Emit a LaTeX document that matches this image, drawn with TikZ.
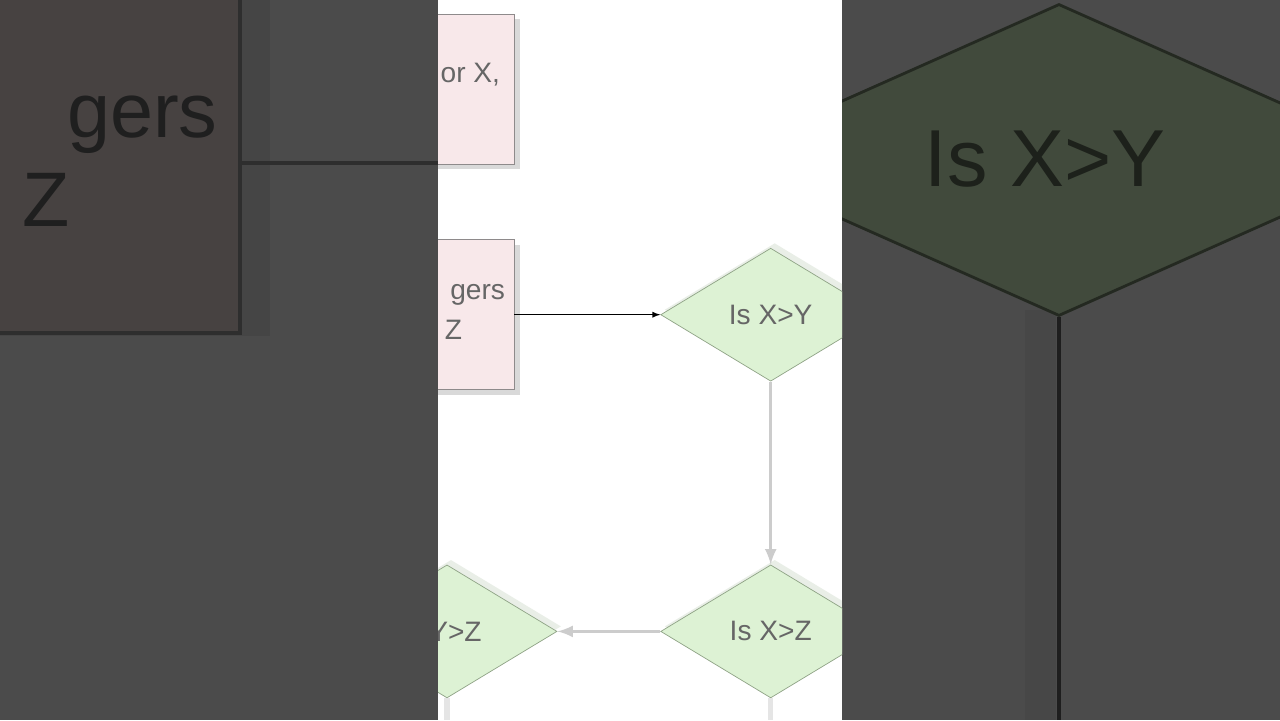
\documentclass[tikz,border=0pt]{standalone}
\usepackage{fontspec}
\setmainfont{Liberation Sans}
\usetikzlibrary{positioning}
\usetikzlibrary{shapes.geometric}
\usetikzlibrary{shadows}
\definecolor{panelgray}{HTML}{4B4B4B}
\definecolor{boxpink}{HTML}{F8E8EA}
\definecolor{boxline}{HTML}{8E8A8B}
\definecolor{decgreen}{HTML}{DDF2D4}
\definecolor{decline}{HTML}{8FA386}
\definecolor{darkbox}{HTML}{474241}
\definecolor{darkdec}{HTML}{414A3C}
\definecolor{darkline}{HTML}{2E2E2E}
\tikzset{process node/.style={rectangle,draw=boxline,fill=boxpink,minimum width=3cm,minimum height=3cm, inner sep=0pt,drop shadow={shadow xshift=0.12cm,shadow yshift=-0.1cm,fill=black!15,opacity=1}},}
\tikzset{decision node/.style={diamond,draw=decline,fill=decgreen,minimum width=4.4cm,minimum height=2.66cm, inner sep=0pt,drop shadow={shadow xshift=0.08cm,shadow yshift=0.1cm,fill=decgreen!70!gray,opacity=0.35},font=\fontsize{16}{19}\selectfont,text=black!60},}
\tikzset{frag text/.style={inner sep=0pt,font=\fontsize{16}{19}\selectfont,text=black!60},}
\tikzset{big box/.style={rectangle,draw=darkline,line width=2pt,fill=darkbox,minimum width=6.4cm,minimum height=6.8cm, inner sep=0pt,drop shadow={shadow xshift=0.6cm,shadow yshift=-0.05cm,fill=black,opacity=0.08}},}
\tikzset{big decision/.style={diamond,draw=black!45!darkdec,line width=1.6pt,fill=darkdec,minimum width=14cm,minimum height=6.24cm, inner sep=0pt},}
\tikzset{big text/.style={inner sep=0pt,font=\fontsize{44}{52}\selectfont,text=black!88},}

\begin{document}
\begin{tikzpicture}
  \useasboundingbox (0,0) rectangle (25.6,-14.4);
  \coordinate (bottomedge) at (0,-14.4);

  % left panel
  \begin{scope}
    \clip (0,0) rectangle (8.76,-14.4);
    \fill[panelgray] (0,0) rectangle (8.76,-14.4);
    \node[big box] (bigread) at (1.6,-3.26) {};
    \node[big text,anchor=east] (biggers) at (4.36,-2.5) {gers};
    \node[big text,anchor=east] (bigz) at (1.4,-4.0) {Z};
    \coordinate (leftcut) at (8.76,-3.26);
    \draw[darkline,line width=2.2pt] (bigread) -- (leftcut);
  \end{scope}

  % right panel
  \begin{scope}
    \clip (16.84,0) rectangle (25.6,-14.4);
    \fill[panelgray] (16.84,0) rectangle (25.6,-14.4);
    \fill[black!5!panelgray] (20.5,-6.2) rectangle (21.12,-14.4);
    \node[big decision] (bigisxy) at (21.18,-3.2) {};
    \node[inner sep=0pt,font=\fontsize{46}{54}\selectfont,text=black!55!darkdec] (bigxy) at ([xshift=-0.28cm,yshift=0.02cm]bigisxy.center) {Is X>Y};
    \coordinate (rightcut) at (bigisxy.south |- bottomedge);
    \draw[black!60!panelgray,line width=2pt] (bigisxy) -- (rightcut);
  \end{scope}

  % middle strip
  \begin{scope}
    \clip (8.76,0) rectangle (16.84,-14.4);
    \fill[white] (8.76,0) rectangle (16.84,-14.4);
    \node[process node] (askx) at (8.78,-1.78) {};
    \node[process node] (readxyz) [below = 1.5cm of askx] {};
    \node[decision node] (isxy) [right = 2.92cm of readxyz] {Is X>Y};
    \node[decision node] (isxz) [below = 3.66cm of isxy] {Is X>Z};
    \node[decision node] (isyz) [left = 2.06cm of isxz] {};

    \node[frag text,anchor=east] (orx) at ([xshift=-0.28cm,yshift=0.28cm]askx.east) {or X,};
    \node[frag text,anchor=east] (gers) at ([xshift=-0.18cm,yshift=0.4cm]readxyz.east) {gers};
    \node[frag text,anchor=east] (zed) at ([xshift=-1.04cm,yshift=-0.3cm]readxyz.east) {Z};
    \node[frag text,anchor=east] (yz) at ([xshift=0.7cm]isyz.center) {Y>Z};

    \coordinate (xzout) at (isxz.south |- bottomedge);
    \coordinate (yzout) at (isyz.south |- bottomedge);

    \path[->,>=latex,semithick]
    (readxyz) edge node {} (isxy);
    \path[->,>=latex,line width=2pt,color=gray!40]
    (isxy) edge node {} (isxz)
    (isxz) edge node {} (isyz);
    \path[line width=3pt,color=gray!20]
    (isxz) edge node {} (xzout)
    (isyz) edge node {} (yzout);
  \end{scope}
\end{tikzpicture}
\end{document}
